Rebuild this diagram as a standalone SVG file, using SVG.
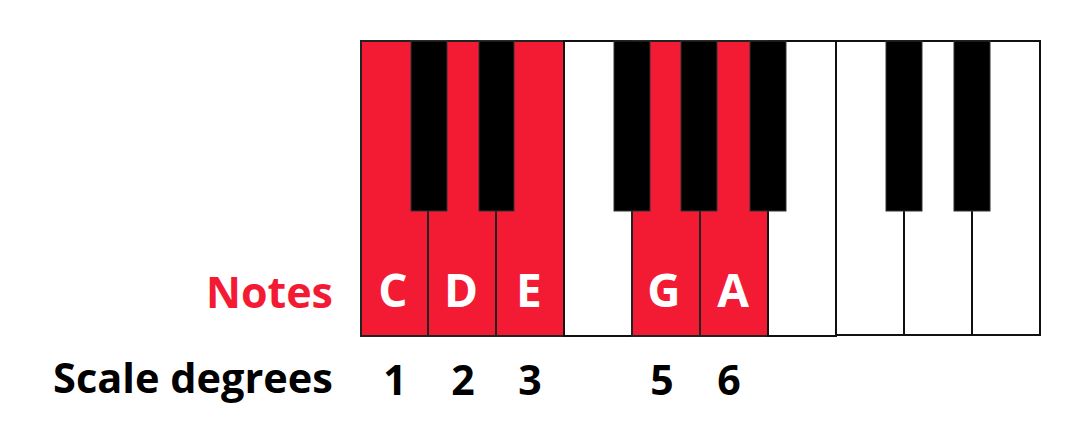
<svg xmlns="http://www.w3.org/2000/svg" width="1080" height="432" viewBox="0 0 1080 432">
  <style>
    .w { fill: #ffffff; stroke: #111111; stroke-width: 2; }
    .r { fill: #f31b33; stroke: #222222; stroke-width: 2; }
    .b { fill: #000000; stroke: #333333; stroke-width: 1; }
    .note { font-family: "Open Sans", "Noto Sans", sans-serif; font-weight: 700; font-size: 46px; fill: #ffffff; text-anchor: middle; }
    .deg { font-family: "Open Sans", "Noto Sans", sans-serif; font-weight: 700; font-size: 41px; fill: #000000; text-anchor: middle; }
    .lbl { font-family: "Open Sans", "Noto Sans", sans-serif; font-weight: 700; text-anchor: end; }
  </style>
  <rect width="1080" height="432" fill="#ffffff"/>
  <g id="white-keys">
    <rect id="key-C" class="r" x="361" y="41" width="67" height="295"/>
    <rect id="key-D" class="r" x="428" y="41" width="68" height="295"/>
    <rect id="key-E" class="r" x="496" y="41" width="68" height="295"/>
    <rect id="key-F" class="w" x="564" y="41" width="68" height="295"/>
    <rect id="key-G" class="r" x="632" y="41" width="68" height="295"/>
    <rect id="key-A" class="r" x="700" y="41" width="68" height="295"/>
    <rect id="key-B" class="w" x="768" y="41" width="68" height="295"/>
    <rect id="key-C2" class="w" x="836" y="41" width="68" height="294"/>
    <rect id="key-D2" class="w" x="904" y="41" width="68" height="294"/>
    <rect id="key-E2" class="w" x="972" y="41" width="68" height="294"/>
  </g>
  <g id="black-keys">
    <rect id="key-Cs" class="b" x="411" y="41" width="36" height="170"/>
    <rect id="key-Ds" class="b" x="479" y="41" width="35" height="170"/>
    <rect id="key-Fs" class="b" x="614" y="41" width="36" height="170"/>
    <rect id="key-Gs" class="b" x="681" y="41" width="36" height="170"/>
    <rect id="key-As" class="b" x="750" y="41" width="36" height="170"/>
    <rect id="key-Cs2" class="b" x="886" y="41" width="36" height="170"/>
    <rect id="key-Ds2" class="b" x="954" y="41" width="36" height="170"/>
  </g>
  <g id="note-labels">
    <text class="note" x="393" y="307">C</text>
    <text class="note" x="461" y="307">D</text>
    <text class="note" x="529" y="307">E</text>
    <text class="note" x="664" y="307">G</text>
    <text class="note" x="733" y="307">A</text>
  </g>
  <g id="degree-labels">
    <text class="deg" x="395" y="395">1</text>
    <text class="deg" x="463" y="395">2</text>
    <text class="deg" x="530" y="395">3</text>
    <text class="deg" x="662" y="395">5</text>
    <text class="deg" x="729" y="395">6</text>
  </g>
  <g id="row-labels">
    <text class="lbl" x="333" y="308" font-size="43" fill="#f31b33">Notes</text>
    <text class="lbl" x="333" y="393" font-size="41.5" fill="#000000">Scale degrees</text>
  </g>
</svg>
